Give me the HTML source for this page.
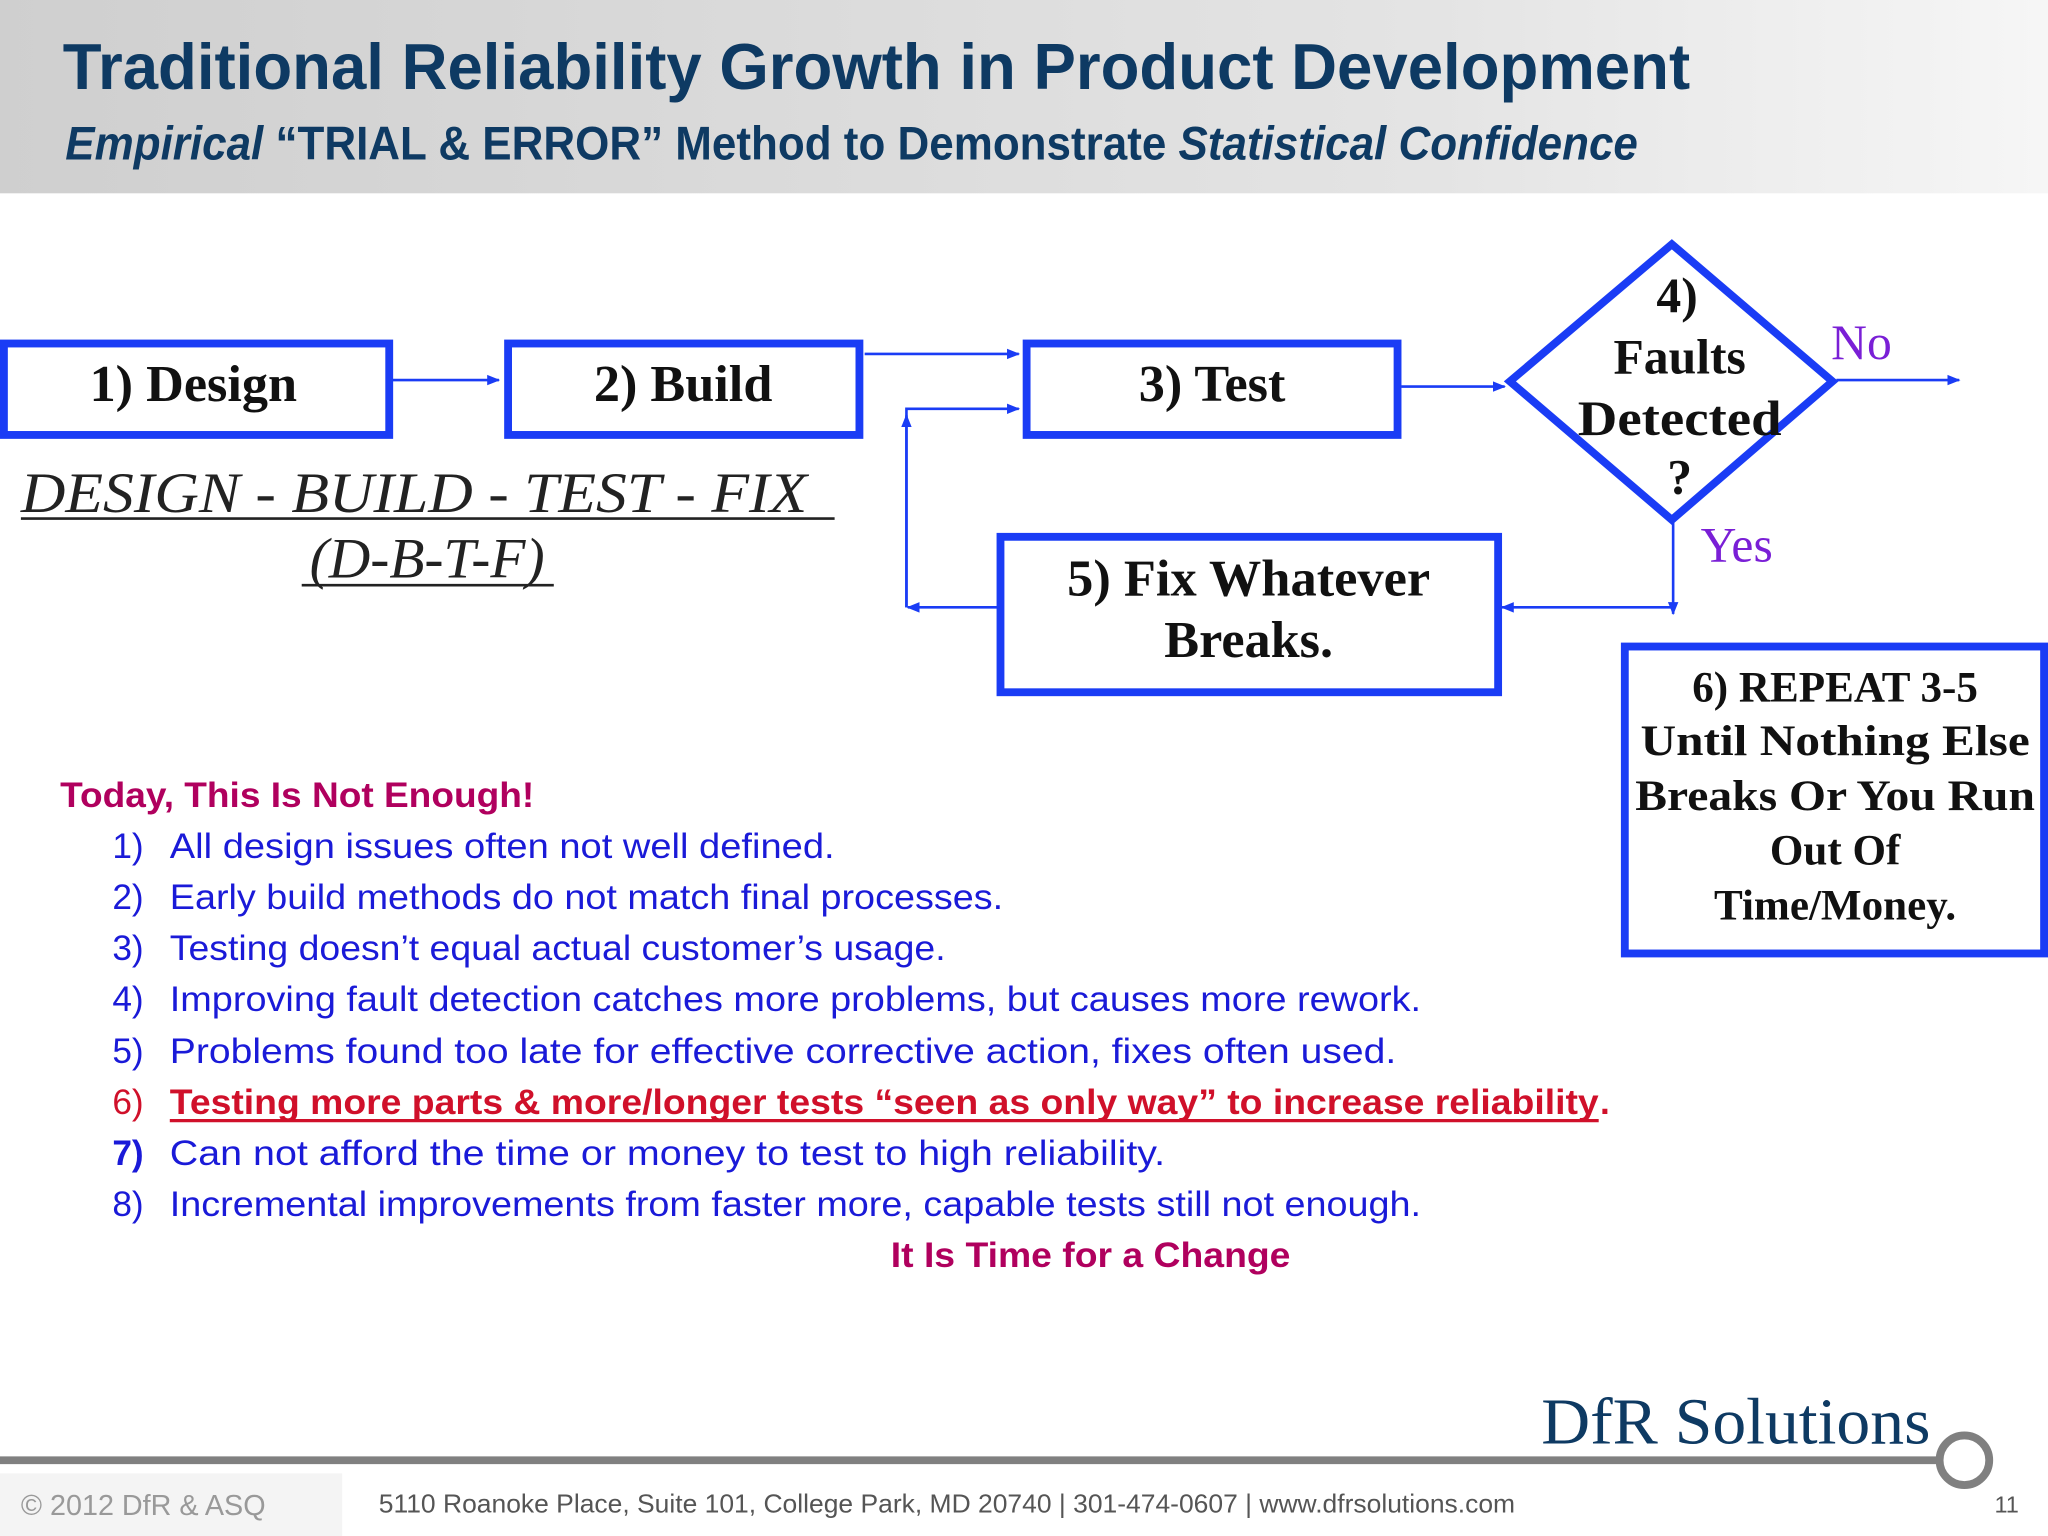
<!DOCTYPE html>
<html><head><meta charset="utf-8"><style>
html,body{margin:0;padding:0;background:#fff}
svg{display:block}
.serif{font-family:"Liberation Serif",serif}
.sans{font-family:"Liberation Sans",sans-serif}
</style></head><body>
<svg width="2048" height="1536" viewBox="0 0 1568 1176" xmlns="http://www.w3.org/2000/svg">
<defs>
<linearGradient id="hdr" x1="0" y1="0" x2="1" y2="0"><stop offset="0" stop-color="#cfcfcf"/><stop offset="0.7" stop-color="#e4e4e4"/><stop offset="1" stop-color="#f6f6f6"/></linearGradient>
<marker id="ah" markerWidth="10" markerHeight="10" refX="9" refY="5" orient="auto" markerUnits="userSpaceOnUse"><path d="M0,1 L10,5 L0,9 z" fill="#1a3cf5"/></marker>
</defs>
<rect x="0" y="0" width="1568" height="148" fill="url(#hdr)"/>
<text x="48" y="68" class="sans" font-weight="bold" font-size="50" fill="#0e3a63" textLength="1246" lengthAdjust="spacingAndGlyphs">Traditional Reliability Growth in Product Development</text>
<text x="50" y="122" class="sans" font-weight="bold" font-size="36" fill="#0e3a63" textLength="1204" lengthAdjust="spacingAndGlyphs"><tspan font-style="italic">Empirical</tspan> “TRIAL &amp; ERROR” Method to Demonstrate <tspan font-style="italic">Statistical Confidence</tspan></text>

<g fill="none" stroke="#1a3cf5" stroke-width="6">
<rect x="3" y="263" width="295" height="70"/>
<rect x="389" y="263" width="269" height="70"/>
<rect x="786" y="263" width="284" height="70"/>
<polygon points="1280,187 1403,292 1280,398 1156,292"/>
<rect x="766" y="411" width="381" height="119"/>
<rect x="1244" y="495" width="321" height="235"/>
</g>
<g stroke="#1a3cf5" stroke-width="2" fill="none">
<line x1="300" y1="291" x2="382" y2="291" marker-end="url(#ah)"/>
<line x1="662" y1="271" x2="780" y2="271" marker-end="url(#ah)"/>
<polyline points="694,465 694,313 780,313" marker-end="url(#ah)"/>
<line x1="694" y1="465" x2="694" y2="318" marker-end="url(#ah)"/>
<line x1="766" y1="465" x2="695" y2="465" marker-end="url(#ah)"/>
<line x1="1073" y1="296" x2="1152" y2="296" marker-end="url(#ah)"/>
<line x1="1406" y1="291" x2="1500" y2="291" marker-end="url(#ah)"/>
<line x1="1281" y1="400" x2="1281" y2="470" marker-end="url(#ah)"/>
<line x1="1281" y1="465" x2="1150" y2="465" marker-end="url(#ah)"/>
</g>
<g class="serif" font-size="40" fill="#111" text-anchor="middle" font-weight="bold">
<text x="148" y="307">1) Design</text>
<text x="523" y="307">2) Build</text>
<text x="928" y="307">3) Test</text>
<text x="1284" y="239" font-size="38">4)</text>
<text x="1286" y="286" font-size="38">Faults</text>
<text x="1286" y="333" font-size="38" textLength="156" lengthAdjust="spacingAndGlyphs">Detected</text>
<text x="1286" y="378" font-size="38">?</text>
<text x="956" y="456" textLength="278" lengthAdjust="spacingAndGlyphs">5) Fix Whatever</text>
<text x="956" y="503">Breaks.</text>
<g font-size="33"><text x="1405" y="537">6) REPEAT 3-5</text><text x="1405" y="578" textLength="298" lengthAdjust="spacingAndGlyphs">Until Nothing Else</text><text x="1405" y="620" textLength="306" lengthAdjust="spacingAndGlyphs">Breaks Or You Run</text><text x="1405" y="662">Out Of</text><text x="1405" y="704">Time/Money.</text></g>
</g>
<text x="1402" y="275" class="serif" font-size="38" fill="#7a1fd6">No</text>
<text x="1302" y="430" class="serif" font-size="38" fill="#7a1fd6">Yes</text>
<text x="16" y="392" class="serif" font-style="italic" font-size="44" fill="#222" textLength="602" lengthAdjust="spacingAndGlyphs">DESIGN - BUILD - TEST - FIX</text>
<line x1="16" y1="397" x2="639" y2="397" stroke="#222" stroke-width="2"/>
<text x="327" y="442" class="serif" font-style="italic" font-size="44" fill="#222" text-anchor="middle">(D-B-T-F)</text>
<line x1="231" y1="448" x2="424" y2="448" stroke="#222" stroke-width="2"/>

<g class="sans" font-size="27">
<text x="46" y="618" font-weight="bold" fill="#b0005e" textLength="363" lengthAdjust="spacingAndGlyphs">Today, This Is Not Enough!</text>
<g fill="#1a1ad8">
<text x="86" y="657">1)</text><text x="130" y="657" textLength="509" lengthAdjust="spacingAndGlyphs">All design issues often not well defined.</text>
<text x="86" y="696">2)</text><text x="130" y="696" textLength="638" lengthAdjust="spacingAndGlyphs">Early build methods do not match final processes.</text>
<text x="86" y="735">3)</text><text x="130" y="735" textLength="594" lengthAdjust="spacingAndGlyphs">Testing doesn’t equal actual customer’s usage.</text>
<text x="86" y="774">4)</text><text x="130" y="774" textLength="958" lengthAdjust="spacingAndGlyphs">Improving fault detection catches more problems, but causes more rework.</text>
<text x="86" y="814">5)</text><text x="130" y="814" textLength="939" lengthAdjust="spacingAndGlyphs">Problems found too late for effective corrective action,  fixes often used.</text>
<text x="86" y="892" font-weight="bold">7)</text><text x="130" y="892" textLength="762" lengthAdjust="spacingAndGlyphs">Can not afford the time or money to test to high reliability.</text>
<text x="86" y="931">8)</text><text x="130" y="931" textLength="958" lengthAdjust="spacingAndGlyphs">Incremental improvements from faster more, capable tests still not enough.</text>
</g>
<text x="86" y="853" fill="#d0102a">6)</text>
<text x="130" y="853" fill="#d0102a" font-weight="bold" textLength="1094" lengthAdjust="spacingAndGlyphs">Testing more parts &amp; more/longer tests “seen as only way” to increase reliability</text>
<text x="1225" y="853" fill="#d0102a" font-weight="bold">.</text>
<line x1="130" y1="858" x2="1224" y2="858" stroke="#d0102a" stroke-width="2.5"/>
<text x="682" y="970" font-weight="bold" fill="#b0005e" textLength="306" lengthAdjust="spacingAndGlyphs">It Is Time for a Change</text>
</g>

<text x="1180" y="1105" class="serif" font-size="50" fill="#0e3a63" textLength="298" lengthAdjust="spacingAndGlyphs">DfR Solutions</text>
<line x1="0" y1="1118" x2="1486" y2="1118" stroke="#808080" stroke-width="6"/>
<circle cx="1504" cy="1118" r="19" fill="none" stroke="#808080" stroke-width="6"/>
<rect x="0" y="1128" width="262" height="48" fill="#f4f4f4"/>
<text x="16" y="1160" class="sans" font-size="22" fill="#999">© 2012 DfR &amp; ASQ</text>
<text x="290" y="1158" class="sans" font-size="20" fill="#555" textLength="870" lengthAdjust="spacingAndGlyphs">5110 Roanoke Place, Suite 101, College Park, MD 20740  |  301-474-0607  |  www.dfrsolutions.com</text>
<text x="1527" y="1158" class="sans" font-size="18" fill="#555">11</text>
</svg>
</body></html>
